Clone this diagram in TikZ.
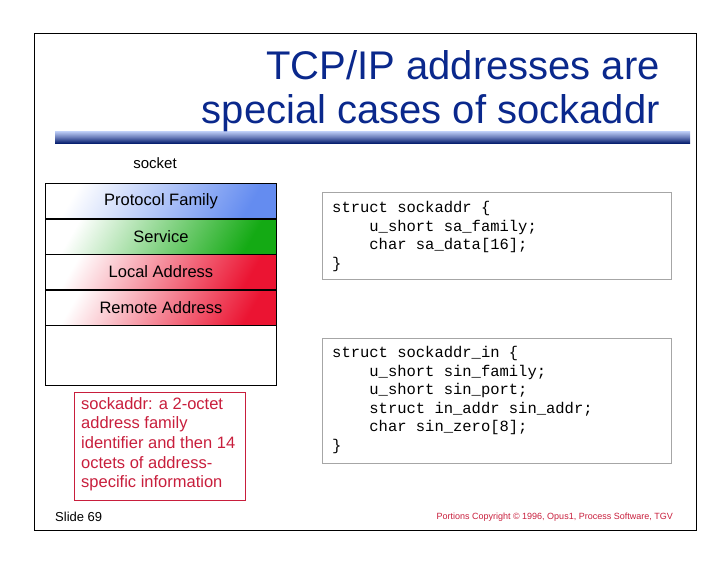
\documentclass[tikz,border=0pt]{standalone}
\usepackage{fontspec}
\setmainfont{Liberation Sans}
\setmonofont{Liberation Mono}
\definecolor{ttl}{RGB}{10,40,140}
\definecolor{crim}{RGB}{200,30,60}
\definecolor{bb}{RGB}{100,140,240}
\definecolor{gg}{RGB}{20,170,20}
\definecolor{rr}{RGB}{235,20,50}
\begin{document}
\begin{tikzpicture}[x=1pt,y=-1pt,
  layer/.style={draw=black,line width=1pt,minimum width=231pt,minimum height=35pt,anchor=north west,inner sep=0pt,font=\fontsize{16.5}{16.5}\selectfont},
  code/.style={draw=black!35,anchor=north west,inner sep=0pt},
  codetext/.style={font=\ttfamily\fontsize{15.5}{18.6}\selectfont,anchor=north west,align=left,inner sep=0pt},
]
\useasboundingbox (0,0) rectangle (728,563);
\node[draw=black,line width=1pt,minimum width=662pt,minimum height=497pt,anchor=north west,inner sep=0pt] (frame) at (34,33) {};
\shade[top color=bb!40,bottom color=ttl!80!black,middle color=ttl!60] (55,131) rectangle (690,143);
\node[font=\fontsize{40}{44}\selectfont,text=ttl,align=right,anchor=north east,inner sep=0pt] (title) at (660,50) {TCP/IP addresses are\\special cases of sockaddr};
\node[font=\fontsize{15}{15}\selectfont] (sock) at (155,163) {socket};
\node[draw=black,line width=1pt,minimum width=231pt,minimum height=202pt,anchor=north west,inner sep=0pt] (sbox) at (45,183) {};
\node[layer,left color=white,right color=bb,shading angle=60] (pf) at (45,183) {Protocol Family};
\node[layer,left color=white,right color=gg,shading angle=60] (sv) at (45,219) {Service};
\node[layer,left color=white,right color=rr,shading angle=60] (la) at (45,254) {Local Address};
\node[layer,left color=white,right color=rr,shading angle=60] (ra) at (45,290) {Remote Address};
\node[code,minimum width=349pt,minimum height=87pt] (c1) at (322,192) {};
\node[codetext] (t1) at (332,201) {struct sockaddr \{\\\ \ \ \ u\_short sa\_family;\\\ \ \ \ char sa\_data[16];\\\}};
\node[code,minimum width=349pt,minimum height=125pt] (c2) at (322,338) {};
\node[codetext] (t2) at (332,346) {struct sockaddr\_in \{\\\ \ \ \ u\_short sin\_family;\\\ \ \ \ u\_short sin\_port;\\\ \ \ \ struct in\_addr sin\_addr;\\\ \ \ \ char sin\_zero[8];\\\}};
\node[draw=crim,line width=0.8pt,minimum width=171pt,minimum height=108pt,anchor=north west,inner sep=0pt] (rb) at (74,392) {};
\node[text=crim,font=\fontsize{16.5}{19.7}\selectfont,align=left,anchor=north west,inner sep=0pt] (rt) at (81,397) {sockaddr: a 2-octet\\address family\\identifier and then 14\\octets of address-\\specific information};
\node[font=\fontsize{13}{13}\selectfont,anchor=west,inner sep=0pt] (sl) at (55,517) {Slide 69};
\node[text=crim,font=\fontsize{9}{9}\selectfont,anchor=east,inner sep=0pt] (cp) at (673,517) {Portions Copyright © 1996, Opus1, Process Software, TGV};
\end{tikzpicture}
\end{document}
